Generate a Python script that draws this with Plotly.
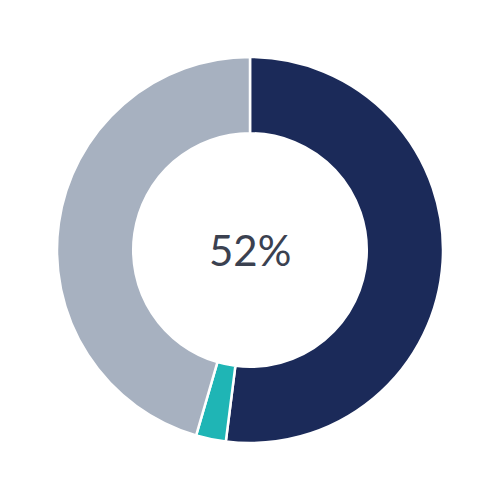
import plotly.graph_objects as go

labels = ["A", "B", "C"]
values = [52, 2.5, 45.5]
colors = ["#1b2a59", "#1fb5b5", "#a7b1c0"]
center_text = "52%"

fig = go.Figure(go.Pie(
    labels=labels,
    values=values,
    hole=0.605,
    sort=False,
    direction="clockwise",
    rotation=0,
    marker=dict(colors=colors, line=dict(color="white", width=2.5)),
    textinfo="none",
    hoverinfo="none",
    domain=dict(x=[0.098, 0.870], y=[0.13, 0.902]),
))

fig.update_layout(
    width=500, height=500,
    margin=dict(l=0, r=0, t=0, b=0),
    showlegend=False,
    paper_bgcolor="white",
    annotations=[dict(text=center_text, x=0.484, y=0.516, xref="paper", yref="paper",
                      showarrow=False, font=dict(family="Lato", size=42, color="#3b4150"))],
)

fig.write_html("out.html")
